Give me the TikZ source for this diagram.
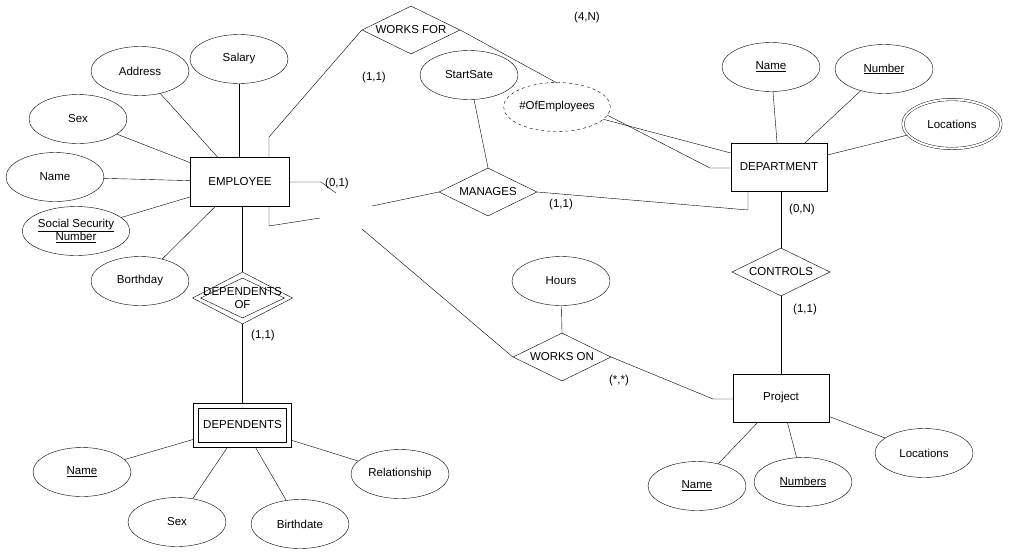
\documentclass[tikz,border=0pt]{standalone}
\usepackage{fontspec}
\setmainfont{Liberation Sans}
\usetikzlibrary{shapes.geometric}
\begin{document}
\begin{tikzpicture}[x=1pt,y=-1pt,font=\fontsize{11.5}{12.5}\selectfont,
  attr/.style={draw,ellipse,minimum width=98pt,minimum height=49pt,inner sep=0pt,align=center},
  ent/.style={draw,minimum width=96pt,minimum height=48pt},
  rel/.style={draw,diamond,aspect=2,minimum width=98pt,minimum height=48pt,inner sep=0pt,align=center},
  lab/.style={inner sep=0pt},
  line/.style={draw,black}]
\useasboundingbox (0,0) rectangle (1024,558);
% entities
\node[ent,minimum width=99pt,minimum height=49pt] (emp) at (240,182) {EMPLOYEE};
\node[ent] (dept) at (779,167) {DEPARTMENT};
\node[ent] (proj) at (781,398) {Project};
\node[draw,minimum width=98pt,minimum height=44pt] (depo) at (242.5,425) {};
\node[draw,minimum width=88pt,minimum height=34pt] (dep) at (242.5,425) {DEPENDENTS};
% relationships
\node[rel] (wf) at (411,30) {WORKS FOR};
\node[rel] (man) at (488,192) {MANAGES};
\node[rel] (ctl) at (781,272) {CONTROLS};
\node[rel] (won) at (562,357) {WORKS ON};
\node[rel,minimum width=100pt,minimum height=52pt] (dofo) at (242.5,298) {};
\node[rel,minimum width=84pt,minimum height=40pt] (dof) at (242.5,298) {};
\node[lab,align=center] at (242.5,298) {DEPENDENTS\\OF};
% attributes
\node[attr] (addr) at (140,71) {Address};
\node[attr] (sal) at (239,59) {Salary};
\node[attr] (sex) at (78,119) {Sex};
\node[attr] (ename) at (55,177) {Name};
\node[attr] (ssn) at (76,231) {\underline{Social Security}\\\underline{Number}};
\node[attr] (bd) at (140,281) {Borthday};
\node[attr] (ss) at (469,75) {StartSate};
\node[attr,dashed] (noe) at (557,107) {\#OfEmployees};
\node[attr] (dname) at (771,67) {\underline{Name}};
\node[attr] (dnum) at (884,69) {\underline{Number}};
\node[attr,double,double distance=2pt] (dloc) at (952,124) {Locations};
\node[attr] (hrs) at (561,281) {Hours};
\node[attr] (pname) at (697,486) {\underline{Name}};
\node[attr] (pnum) at (803,482) {\underline{Numbers}};
\node[attr] (ploc) at (924,453) {Locations};
\node[attr] (dpname) at (82,472) {\underline{Name}};
\node[attr] (dpsex) at (177,522) {Sex};
\node[attr] (dpbd) at (300,524) {Birthdate};
\node[attr] (rel) at (400,474) {Relationship};
% attribute links
\draw (addr) -- (emp);
\draw (sal) -- (sal|-emp.north);
\draw (sex) -- (emp);
\draw (ename) -- (emp);
\draw (ssn) -- (emp);
\draw (bd) -- (emp);
\draw (dname) -- (dept);
\draw (dnum) -- (dept);
\draw (dloc) -- (dept);
\draw (pname) -- (proj);
\draw (pnum) -- (proj);
\draw (ploc) -- (proj);
\draw (dpname) -- (depo);
\draw (dpsex) -- (depo);
\draw (dpbd) -- (depo);
\draw (rel) -- (depo);
\draw (ss) -- (man.north);
\draw (hrs) -- (won.north);
\draw (noe) -- (dept.north west |- 0,153);
% relationship links
\coordinate (wf1) at (269,137);
\draw (emp.north -| wf1) -- (wf1) -- (wf.west);
\coordinate (wf2) at (557,83);
\coordinate (wf3) at (607,115);
\coordinate (wf4) at (710,168);
\draw (wf.east) -- (wf2);
\draw (wf3) -- (wf4) -- (dept.west |- wf4);
\coordinate (m1) at (321,182);
\coordinate (m2) at (336,193);
\draw (emp.east) -- (m1) -- (m2);
\coordinate (m3) at (269,226);
\coordinate (m4) at (320,218);
\draw (emp.south -| m3) -- (m3) -- (m4);
\coordinate (m5) at (372,206);
\draw (m5) -- (man.west);
\coordinate (m6) at (748,210);
\draw (man.east) -- (m6) -- (dept.south -| m6);
\draw (emp.south -| dof.north) -- (dofo.north);
\draw (dofo.south) -- (depo.north);
\draw (dept.south -| ctl.north) -- (ctl.north);
\draw (ctl.south) -- (proj.north);
\coordinate (w1) at (362,229);
\draw (w1) -- (won.west);
\coordinate (w2) at (713,399);
\draw (won.east) -- (w2) -- (proj.west |- w2);
% cardinalities
\node[lab] at (587,18) {(4,N)};
\node[lab] at (374,78) {(1,1)};
\node[lab] at (337,184) {(0,1)};
\node[lab] at (561,205) {(1,1)};
\node[lab] at (802,210) {(0,N)};
\node[lab] at (805,310) {(1,1)};
\node[lab] at (263,336) {(1,1)};
\node[lab] at (619,381) {(*,*)};
\end{tikzpicture}
\end{document}
